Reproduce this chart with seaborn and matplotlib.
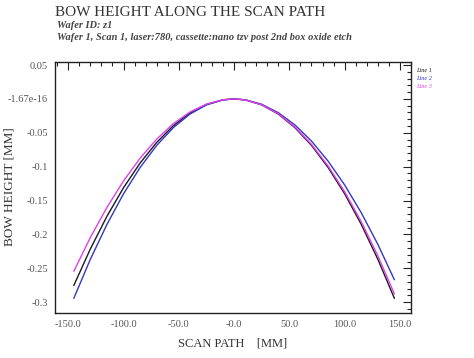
import numpy as np
import pandas as pd
import seaborn as sns
import matplotlib
matplotlib.use("Agg")
import matplotlib.pyplot as plt
from matplotlib.ticker import MultipleLocator, FixedLocator, FixedFormatter

# ---- data ----
scan_x = [-145, -130, -115, -100, -85, -70, -55, -40, -25, -10, 0,
          10, 25, 40, 55, 70, 85, 100, 115, 130, 145]
line1 = [-0.2754, -0.2214, -0.1732, -0.1310, -0.0946, -0.0642, -0.0396, -0.0210, -0.0082, -0.0013, 0.0,
         -0.0014, -0.0088, -0.0224, -0.0424, -0.0686, -0.1012, -0.1400, -0.1852, -0.2366, -0.2944]
line2 = [-0.2944, -0.2366, -0.1852, -0.1400, -0.1012, -0.0686, -0.0424, -0.0224, -0.0088, -0.0014, 0.0,
         -0.0013, -0.0079, -0.0203, -0.0384, -0.0622, -0.0918, -0.1270, -0.1680, -0.2146, -0.2670]
line3 = [-0.2544, -0.2045, -0.1600, -0.1210, -0.0874, -0.0593, -0.0366, -0.0194, -0.0076, -0.0012, 0.0,
         -0.0014, -0.0086, -0.0219, -0.0414, -0.0671, -0.0990, -0.1370, -0.1812, -0.2315, -0.2880]
series_names = ["Line 1", "Line 2", "Line 3"]
series_colors = ["#1a1a1a", "#3535c8", "#e040e8"]

x_ticks = [-150.0, -100.0, -50.0, 0.0, 50.0, 100.0, 150.0]
x_tick_labels = ["-150.0", "-100.0", "-50.0", "-0.0", "50.0", "100.0", "150.0"]
y_ticks = [0.05, 0.0, -0.05, -0.1, -0.15, -0.2, -0.25, -0.3]
y_tick_labels = ["0.05", "-1.67e-16", "-0.05", "-0.1", "-0.15", "-0.2", "-0.25", "-0.3"]

title = "BOW HEIGHT ALONG THE SCAN PATH"
sub1 = "Wafer ID: z1"
sub2 = "Wafer 1, Scan 1, laser:780, cassette:nano tzv post 2nd box oxide etch"

df = pd.DataFrame({
    "x": scan_x * 3,
    "y": line1 + line2 + line3,
    "series": [series_names[0]] * len(scan_x) + [series_names[1]] * len(scan_x) + [series_names[2]] * len(scan_x),
})

sns.set_style("white")
plt.rcParams["font.family"] = ["Liberation Serif", "DejaVu Serif"]

fig = plt.figure(figsize=(4.74, 3.58), dpi=100)
ax = fig.add_axes([55 / 474, 1 - 313 / 358, (411 - 55) / 474, (313 - 62) / 358])

sns.lineplot(data=df, x="x", y="y", hue="series", palette=series_colors,
             linewidth=1.0, ax=ax, legend=False, sort=False, estimator=None)

ax.set_xlim(-162, 160)
ax.set_ylim(-0.316, 0.0545)

ax.xaxis.set_major_locator(FixedLocator(x_ticks))
ax.xaxis.set_major_formatter(FixedFormatter(x_tick_labels))
ax.xaxis.set_minor_locator(MultipleLocator(10))
ax.yaxis.set_major_locator(FixedLocator(y_ticks))
ax.yaxis.set_major_formatter(FixedFormatter(y_tick_labels))
ax.yaxis.set_minor_locator(MultipleLocator(0.01))

ax.tick_params(which="both", direction="in", top=True, right=True,
               colors="#222222", labelcolor="#555555", labelsize=7.5, width=0.8)
ax.tick_params(which="major", length=6, pad=5)
ax.tick_params(which="minor", length=3)
for s in ax.spines.values():
    s.set_color("#222222")
    s.set_linewidth(1.0)

ax.set_xlabel("SCAN PATH    [MM]", fontsize=9, color="#333333", labelpad=6)
ax.set_ylabel("BOW HEIGHT [MM]", fontsize=9.5, color="#333333")
ax.yaxis.set_label_coords((16 - 55) / 356, (313 - 187) / 251)

fig.text(55 / 474, 1 - 13 / 358, title, fontsize=11, color="#333333", va="center", ha="left")
fig.text(57 / 474, 1 - 25 / 358, sub1, fontsize=7.5, style="italic", weight="bold",
         color="#444444", va="center", ha="left")
fig.text(57 / 474, 1 - 37 / 358, sub2, fontsize=7.5, style="italic", weight="bold",
         color="#444444", va="center", ha="left")

for i, (name, col) in enumerate(zip(series_names, series_colors)):
    fig.text(416 / 474, 1 - (71 + 8 * i) / 358, name, fontsize=4.5, style="italic",
             color=col, va="center", ha="left")

fig.savefig("out.png", dpi=100)
